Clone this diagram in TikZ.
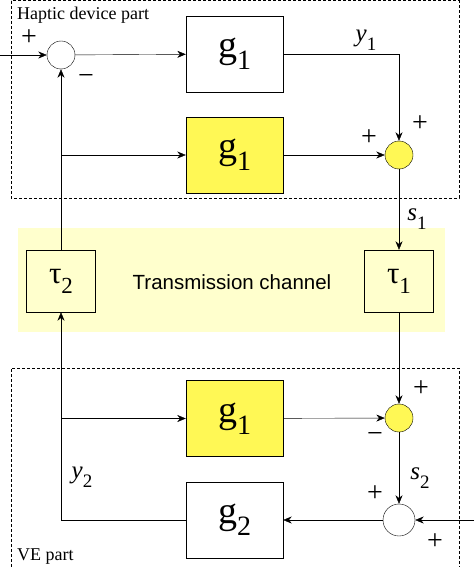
\documentclass[tikz,border=0pt]{standalone}
\usepackage{fontspec}
\setmainfont{Liberation Serif}
\setsansfont{Liberation Sans}
\usetikzlibrary{
        arrows.meta,
        backgrounds,
        positioning
    }
\definecolor{blkyellow}{RGB}{255,248,85}
\definecolor{chanyellow}{RGB}{255,255,205}
\tikzset{>={Stealth[length=8.5pt,width=7pt]},line width=1.35pt}
\tikzset{
        blk/.style={draw,minimum width=97pt,minimum height=76pt,inner sep=0pt},
        dly/.style={draw,fill=chanyellow,minimum width=69pt,minimum height=62pt,inner sep=0pt},
        sumw/.style={circle,draw,fill=white,minimum size=28pt,inner sep=0pt},
        sumy/.style={sumw,fill=blkyellow},
        part/.style={line width=1pt,dash pattern=on 3pt off 2pt},
        sgn/.style={inner sep=0pt,font=\fontsize{28}{28}\selectfont}
    }
\newcommand{\gblk}[1]{{\fontsize{38}{38}\selectfont g\raisebox{-12pt}{\fontsize{28}{28}\selectfont #1}}}
\newcommand{\tblk}[1]{{\fontsize{31}{31}\selectfont τ\raisebox{-10pt}{\fontsize{23}{23}\selectfont #1}}}
\newcommand{\sig}[2]{{\fontsize{25}{25}\selectfont\textit{#1}\raisebox{-9pt}{\fontsize{19}{19}\selectfont #2}}}

\begin{document}
\begin{tikzpicture}[x=1pt,y=-1pt]
                        \useasboundingbox (0,0) rectangle (474,567);
                        % transmission channel and the two parts
                        \fill[chanyellow] (18,228) rectangle (445,332);
                        \draw[part] (11,1) rectangle (459,198);
                        \draw[part] (11,567) -- (11,368) -- (459,368) -- (459,567);
                        \node[anchor=base west,inner sep=0pt,font=\fontsize{18}{18}\selectfont] (hdp) at (17,20) {Haptic device part};
                        \node[anchor=base west,inner sep=0pt,font=\fontsize{18}{18}\selectfont] (vep) at (17,560) {VE part};
                        \node[anchor=base,inner sep=0pt,font=\sffamily\fontsize{20.5}{20.5}\selectfont] (tch) at (232,289) {Transmission channel};
                        % blocks
                        \node[sumw] (s0) at (61,55) {};
                        \node[blk] (g0) at (234.5,54) {\gblk{1}};
                        \node[blk,fill=blkyellow] (g1) at (234.5,155) {\gblk{1}};
                        \node[sumy] (s1) at (399,155) {};
                        \node[dly] (t2) at (61,281) {\tblk{2}};
                        \node[dly] (t1) at (399,281) {\tblk{1}};
                        \node[blk,fill=blkyellow] (g2) at (234.5,418.5) {\gblk{1}};
                        \node[sumy] (s2) at (399,418) {};
                        \node[blk] (g3) at (234.5,520) {\gblk{2}};
                        \node[sumw,minimum size=32pt] (s3) at (399,520) {};
                        \coordinate (in0) at (0,55);
                        \coordinate (in1) at (474,520);
                        % connectors
                        \draw[->] (in0) -- (s0);
                        \draw[->] (s0) -- (g0);
                        \draw[->] (g0.east) -| (s1.north);
                        \draw[->] (g1) -- (s1);
                        \draw[->] (s1) -- (t1);
                        \draw[->] (t2) -- (s0);
                        \draw[->] (t2.north |- g1.west) -- (g1.west);
                        \draw[->] (t1) -- (s2);
                        \draw[->] (t2.south |- g2.west) -- (g2.west);
                        \draw[->] (g2) -- (s2);
                        \draw[->] (s2) -- (s3);
                        \draw[->] (in1) -- (s3);
                        \draw[->] (s3) -- (g3);
                        \draw[->] (g3.west) -| (t2.south);
                        % signals and signs
                        \node[inner sep=0pt] (ya) at (366,40) {\sig{y}{1}};
                        \node[inner sep=0pt] (sa) at (417,219) {\sig{s}{1}};
                        \node[inner sep=0pt] (sb) at (420,478) {\sig{s}{2}};
                        \node[inner sep=0pt] (yb) at (82,477) {\sig{y}{2}};
                        \node[sgn] (pa) at (29,38) {+};
                        \node[sgn] (ma) at (86,80) {−};
                        \node[sgn] (pb) at (420,124) {+};
                        \node[sgn] (pc) at (369,138) {+};
                        \node[sgn] (pd) at (421,389) {+};
                        \node[sgn] (mb) at (375,437) {−};
                        \node[sgn] (pe) at (375,494) {+};
                        \node[sgn] (pf) at (435,542) {+};
                    \end{tikzpicture}
\end{document}
